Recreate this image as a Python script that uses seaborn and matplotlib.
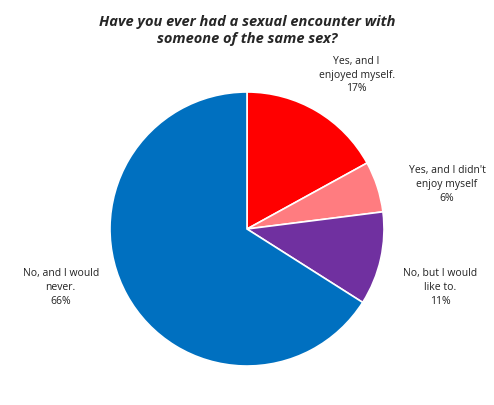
import matplotlib
matplotlib.use("Agg")
import matplotlib.pyplot as plt
import seaborn as sns

sns.set_theme(style="white")
plt.rcParams['font.family'] = ['Open Sans', 'DejaVu Sans']

labels = ["Yes, and I\nenjoyed myself.", "Yes, and I didn't\nenjoy myself", "No, but I would\nlike to.", "No, and I would\nnever."]
values = [17, 6, 11, 66]
colors = ["#FF0000", "#FF7C80", "#7030A0", "#0070C0"]
label_pos = [(0.80, 1.13), (1.46, 0.33), (1.41, -0.42), (-1.36, -0.42)]

fig = plt.figure(figsize=(4.94, 4.06), dpi=100)
ax = fig.add_axes([0.5 - 137/494, 176/406 - 137/406, 274/494, 274/406])
ax.pie(values, colors=colors, startangle=90, counterclock=False,
       wedgeprops=dict(edgecolor="white", linewidth=1.2))
ax.set_xlim(-1, 1); ax.set_ylim(-1, 1)
for lab, v, (x, y) in zip(labels, values, label_pos):
    ax.text(x, y, f"{lab}\n{v}%", ha="center", va="center", fontsize=7.5,
            color="#222222", clip_on=False, linespacing=1.35)
fig.text(0.5, 0.925, "Have you ever had a sexual encounter with\nsomeone of the same sex?",
         ha="center", va="center", fontsize=10.5, fontweight="bold", fontstyle="italic",
         linespacing=1.3)
fig.savefig("out.png", dpi=100)
